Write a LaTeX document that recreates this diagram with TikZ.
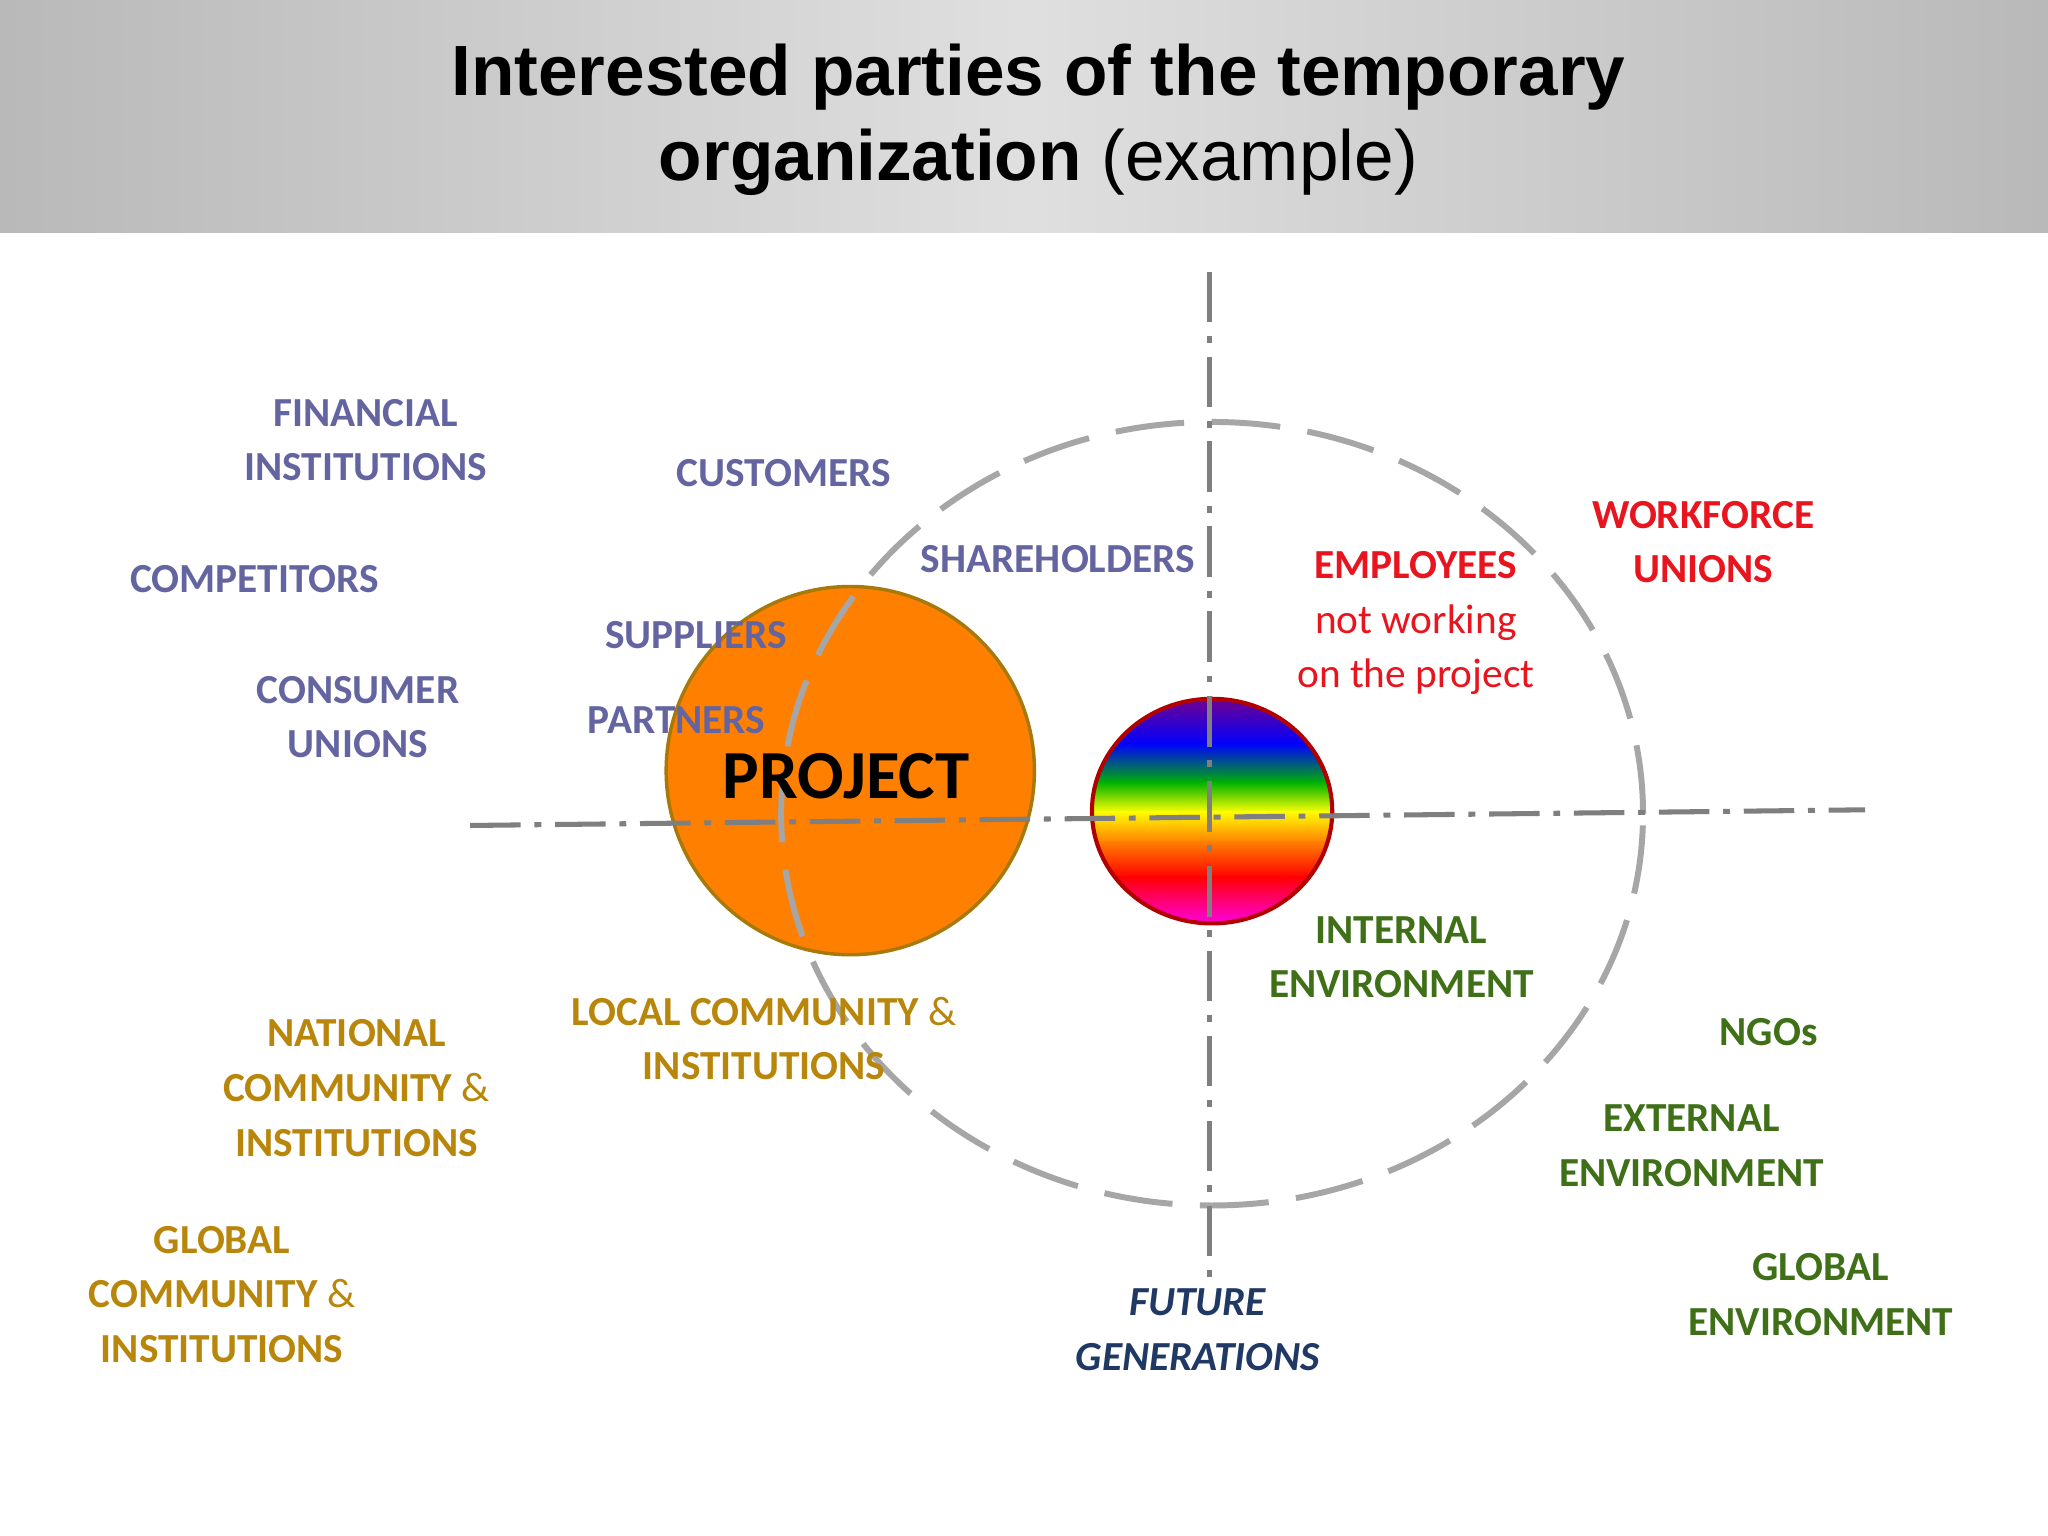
\documentclass[tikz,border=0pt]{standalone}
\usepackage{fontspec}
\usetikzlibrary{shapes.geometric}
\setmainfont{Carlito}
\newfontfamily\titlefont{Liberation Sans}
\definecolor{pur}{HTML}{6464A0}
\definecolor{redc}{HTML}{E8141E}
\definecolor{grn}{HTML}{3F7018}
\definecolor{gold}{HTML}{B8860B}
\definecolor{navy}{HTML}{1F3864}
\definecolor{lgray}{HTML}{A6A6A6}
\definecolor{dgray}{HTML}{7F7F7F}
\tikzset{
 lab/.style={align=center,font=\fontsize{18}{23.8}\selectfont\bfseries},
 dashdot/.style={draw=dgray,line width=2.2pt,dash pattern=on 22pt off 6pt on 3pt off 6pt}
}
\begin{document}
\begin{tikzpicture}[x=0.02cm,y=-0.02cm]
\useasboundingbox (0,0) rectangle (1568,1176);
\fill[white] (0,0) rectangle (1568,1176);
\shade[left color=gray!55,right color=gray!55,middle color=gray!25] (0,0) rectangle (1568,178);
\node[font=\titlefont\fontsize{31}{37}\selectfont,align=center] (title) at (795,92)
 {\textbf{Interested parties of the temporary}\\ \textbf{organization} (example)};
% project circle
\node[circle,minimum size=5.64cm,fill=orange,draw=gold!90!black,line width=1.5pt,inner sep=0] (proj) at (651,590) {};
% rainbow circle
\begin{scope}
\clip (928,621) ellipse [x radius=1.84cm,y radius=1.72cm];
\shade[top color=violet,bottom color=blue] (830,530) rectangle (1030,570);
\shade[top color=blue,bottom color=green!70!black] (830,569) rectangle (1030,600);
\shade[top color=green!70!black,bottom color=yellow] (830,599) rectangle (1030,622);
\shade[top color=yellow,bottom color=orange] (830,621) rectangle (1030,645);
\shade[top color=orange,bottom color=red] (830,644) rectangle (1030,672);
\shade[top color=red,bottom color=magenta] (830,671) rectangle (1030,712);
\end{scope}
\node[ellipse,minimum width=3.68cm,minimum height=3.44cm,draw=red!70!black,line width=1.8pt,inner sep=0] (rb) at (928,621) {};
% big dashed ellipse
\node[draw=lgray,line width=2.6pt,dash pattern=on 30pt off 12pt,ellipse,minimum width=13.2cm,minimum height=12cm,inner sep=0] (env) at (928,623) {};
% axes
\coordinate (vt) at (926,208); \coordinate (vb) at (926,980);
\coordinate (hl) at (360,632); \coordinate (hr) at (1428,620);
\draw[dashdot] (vt) -- (vb);
\draw[dashdot] (hl) -- (hr);
% labels
\node[lab,text=pur] (fin) at (280,337) {FINANCIAL\\INSTITUTIONS};
\node[lab,text=pur] (cus) at (600,362) {CUSTOMERS};
\node[lab,text=pur] (com) at (195,443) {COMPETITORS};
\node[lab,text=pur] (sha) at (810,428) {SHAREHOLDERS};
\node[lab,text=pur] (sup) at (533,486) {SUPPLIERS};
\node[lab,text=pur] (con) at (274,549) {CONSUMER\\UNIONS};
\node[lab,text=pur] (par) at (518,551) {PARTNERS};
\node[font=\fontsize{30}{36}\selectfont\bfseries] (pl) at (648,594) {PROJECT};
\node[align=center,text=redc,font=\fontsize{18}{23.8}\selectfont] (emp) at (1084,477) {\textbf{EMPLOYEES}\\not working\\on the project};
\node[lab,text=redc] (wf) at (1304,415) {WORKFORCE\\UNIONS};
\node[lab,text=grn] (int) at (1073,733) {INTERNAL\\ENVIRONMENT};
\node[lab,text=grn] (ngo) at (1354,790) {NGOs};
\node[lab,text=grn] (ext) at (1295,877) {EXTERNAL\\ENVIRONMENT};
\node[lab,text=grn] (glo) at (1394,991) {GLOBAL\\ENVIRONMENT};
\node[lab,text=navy,font=\fontsize{18}{23.8}\selectfont\bfseries\itshape] (fut) at (917,1018) {FUTURE\\GENERATIONS};
\node[lab,text=gold] (loc) at (585,795) {LOCAL COMMUNITY \mdseries\&\\INSTITUTIONS};
\node[lab,text=gold] (nat) at (273,833) {NATIONAL\\COMMUNITY \mdseries\&\\INSTITUTIONS};
\node[lab,text=gold] (gcom) at (170,991) {GLOBAL\\COMMUNITY \mdseries\&\\INSTITUTIONS};
\end{tikzpicture}
\end{document}
